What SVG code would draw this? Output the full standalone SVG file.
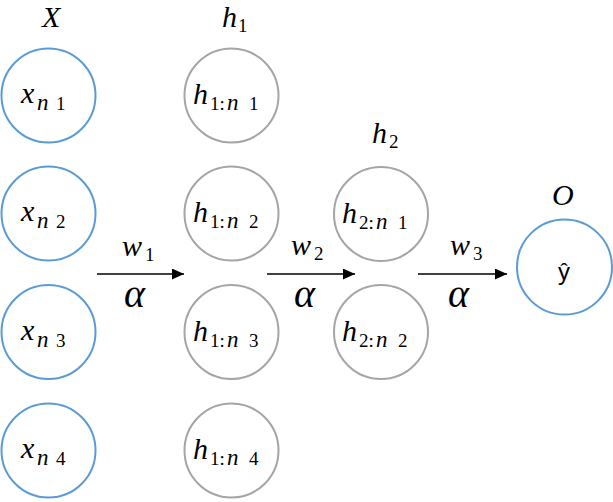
<svg xmlns="http://www.w3.org/2000/svg" width="613" height="502" viewBox="0 0 613 502" font-family="Liberation Serif, serif">
<style>
.b{fill:none;stroke:#5B9BD5;stroke-width:2}
.g{fill:none;stroke:#A5A5A5;stroke-width:2}
.m{font-style:italic;font-size:30px;fill:#000}
.s{font-style:italic;font-size:23px;fill:#000}
.d{font-size:19px;fill:#000}
.a{font-style:italic;font-size:40px;fill:#000}
.y{font-size:24px;fill:#000}
.c{stroke:#000;stroke-width:1.3;fill:none}
</style>
<defs>
<marker id="ah" markerWidth="12" markerHeight="11" refX="12" refY="5.5" orient="auto" markerUnits="userSpaceOnUse">
<path d="M0,0 L12,5.5 L0,11 Z" fill="#000"/>
</marker>
</defs>
<rect width="613" height="502" fill="#fff"/>
<g id="labels" font-family="Liberation Serif">
<text x="42" y="27" class="m">X</text>
<text x="222" y="27" class="m">h</text><text x="238" y="32" class="d">1</text>
<text x="372" y="143" class="m">h</text><text x="389" y="148" class="d">2</text>
<text x="552" y="205" class="m">O</text>
</g>
<g id="x1" font-family="Liberation Serif"><circle cx="48.5" cy="95.5" r="47" class="b"/><text x="21" y="103" class="m">x</text><text x="37" y="110" class="s">n</text><text x="56" y="110" class="d">1</text></g>
<g id="x2" font-family="Liberation Serif"><circle cx="48.5" cy="213.5" r="47" class="b"/><text x="21" y="221" class="m">x</text><text x="37" y="228" class="s">n</text><text x="56" y="228" class="d">2</text></g>
<g id="x3" font-family="Liberation Serif"><circle cx="48.5" cy="332" r="47" class="b"/><text x="21" y="339.5" class="m">x</text><text x="37" y="346.5" class="s">n</text><text x="56" y="346.5" class="d">3</text></g>
<g id="x4" font-family="Liberation Serif"><circle cx="48.5" cy="450.5" r="47" class="b"/><text x="21" y="458" class="m">x</text><text x="37" y="465" class="s">n</text><text x="56" y="465" class="d">4</text></g>
<g id="h11" font-family="Liberation Serif"><circle cx="231.5" cy="95.5" r="47" class="g"/><text x="193" y="104" class="m">h</text><text x="210" y="110" class="d">1:</text><text x="227" y="110" class="s">n</text><text x="249" y="110" class="d">1</text></g>
<g id="h12" font-family="Liberation Serif"><circle cx="231.5" cy="213.5" r="47" class="g"/><text x="193" y="222" class="m">h</text><text x="210" y="228" class="d">1:</text><text x="227" y="228" class="s">n</text><text x="249" y="228" class="d">2</text></g>
<g id="h13" font-family="Liberation Serif"><circle cx="231.5" cy="332" r="47" class="g"/><text x="193" y="340.5" class="m">h</text><text x="210" y="346.5" class="d">1:</text><text x="227" y="346.5" class="s">n</text><text x="249" y="346.5" class="d">3</text></g>
<g id="h14" font-family="Liberation Serif"><circle cx="231.5" cy="450.5" r="47" class="g"/><text x="193" y="459" class="m">h</text><text x="210" y="465" class="d">1:</text><text x="227" y="465" class="s">n</text><text x="249" y="465" class="d">4</text></g>
<g id="h21" font-family="Liberation Serif"><circle cx="381" cy="214" r="47" class="g"/><text x="342" y="223" class="m">h</text><text x="359" y="229" class="d">2:</text><text x="376" y="229" class="s">n</text><text x="398" y="229" class="d">1</text></g>
<g id="h22" font-family="Liberation Serif"><circle cx="381" cy="332" r="47" class="g"/><text x="342" y="341" class="m">h</text><text x="359" y="347" class="d">2:</text><text x="376" y="347" class="s">n</text><text x="398" y="347" class="d">2</text></g>
<g id="out" font-family="Liberation Sans"><circle cx="564.5" cy="267" r="47.5" class="b"/><text x="564" y="280" class="y" text-anchor="middle">ŷ</text></g>
<g id="connectors" font-family="Liberation Serif">
<line x1="97" y1="274" x2="184" y2="274" class="c" marker-end="url(#ah)"/>
<line x1="267" y1="274" x2="355" y2="274" class="c" marker-end="url(#ah)"/>
<line x1="418" y1="274" x2="507" y2="274" class="c" marker-end="url(#ah)"/>
<text x="122" y="256" class="m">w</text><text x="145" y="261" class="d">1</text>
<text x="124" y="307" class="a">α</text>
<text x="291" y="255" class="m">w</text><text x="314" y="260" class="d">2</text>
<text x="294" y="307" class="a">α</text>
<text x="450" y="255" class="m">w</text><text x="473" y="260" class="d">3</text>
<text x="448" y="307" class="a">α</text>
</g>
</svg>
